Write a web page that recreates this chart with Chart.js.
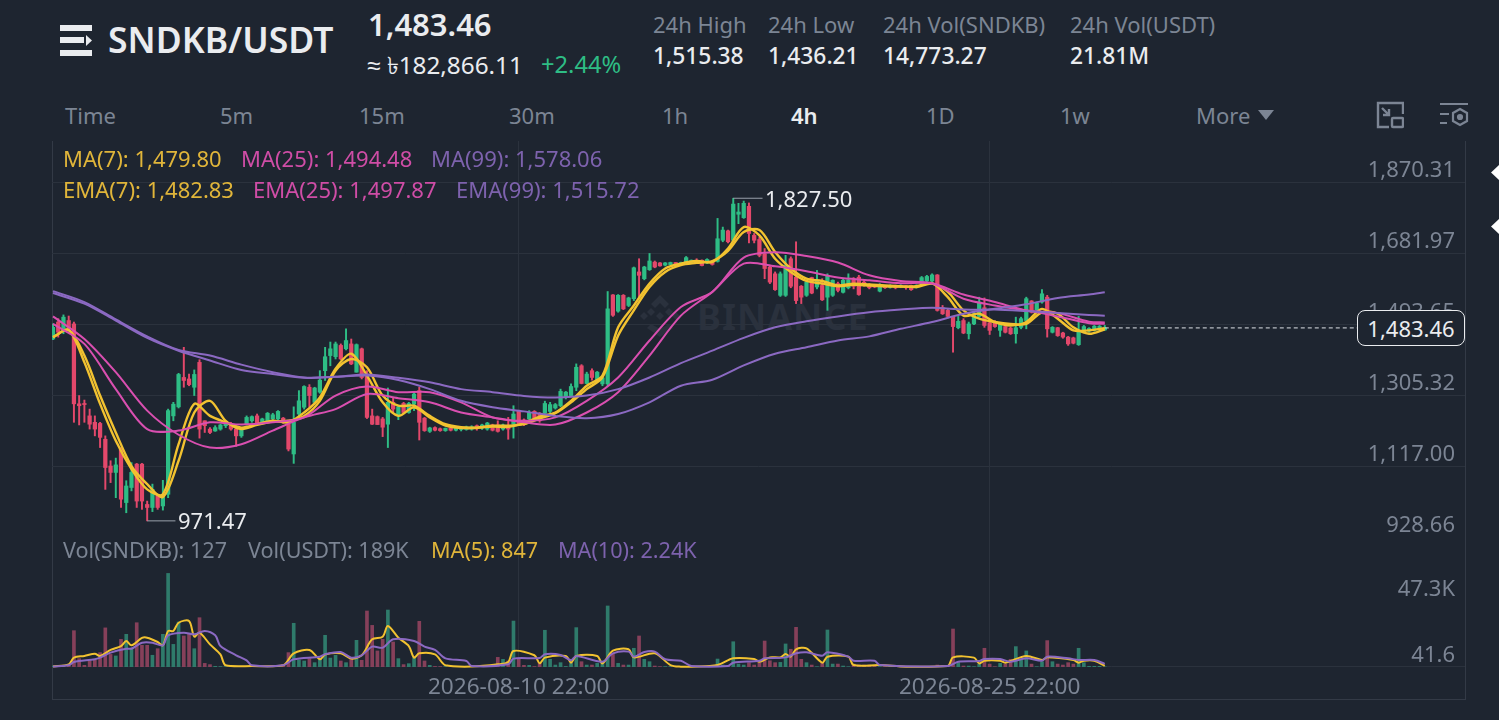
<!DOCTYPE html>
<html><head><meta charset="utf-8">
<script src="https://cdn.jsdelivr.net/npm/chart.js@4"></script>
<style>
html,body{margin:0;padding:0;width:1499px;height:720px;overflow:hidden;background:#1e2530;font-family:"Noto Sans",sans-serif;}
.t{position:absolute;white-space:nowrap;line-height:1;transform:translateY(-50%);}
.g{color:#7c8594;}
.w{color:#eaecef;}
canvas{position:absolute;display:block;}
#frame{position:absolute;left:52px;top:141px;width:1414px;height:559px;border-left:1px solid #333a46;border-right:1px solid #333a46;border-bottom:1px solid #333a46;box-sizing:border-box;}
#wm{position:absolute;left:640px;top:295px;opacity:1;}
</style></head><body>
<svg style="position:absolute;left:60px;top:25px" width="33" height="31" viewBox="0 0 33 31"><g fill="#eaecef"><rect x="0" y="0" width="32" height="6"/><rect x="0" y="12" width="24" height="6"/><rect x="0" y="25" width="32" height="6"/><path d="M26 10l6 5.500-6 5.500z"/></g></svg>
<div class="t w" style="left:108px;top:40px;font-size:35.500px;font-weight:600;">SNDKB/USDT</div>
<div class="t w" style="left:368px;top:24px;font-size:31px;font-weight:600;">1,483.46</div>
<div class="t w" style="left:367px;top:65px;font-size:24.300px;">≈ ৳182,866.11</div>
<div class="t" style="left:541px;top:65px;font-size:23.700px;color:#2ebd85;">+2.44%</div>
<div class="t g" style="left:653px;top:24px;font-size:22px;">24h High</div>
<div class="t g" style="left:768px;top:24px;font-size:22px;">24h Low</div>
<div class="t g" style="left:883px;top:24px;font-size:22px;">24h Vol(SNDKB)</div>
<div class="t g" style="left:1070px;top:24px;font-size:22px;">24h Vol(USDT)</div>
<div class="t w" style="left:653px;top:56px;font-size:22.800px;font-weight:500;">1,515.38</div>
<div class="t w" style="left:768px;top:56px;font-size:22.800px;font-weight:500;">1,436.21</div>
<div class="t w" style="left:883px;top:56px;font-size:22.800px;font-weight:500;">14,773.27</div>
<div class="t w" style="left:1070px;top:56px;font-size:22.800px;font-weight:500;">21.81M</div>
<div class="t g" style="left:65px;top:115px;font-size:22px;">Time</div>
<div class="t g" style="left:220px;top:115px;font-size:22px;">5m</div>
<div class="t g" style="left:359px;top:115px;font-size:22px;">15m</div>
<div class="t g" style="left:509px;top:115px;font-size:22px;">30m</div>
<div class="t g" style="left:662px;top:115px;font-size:22px;">1h</div>
<div class="t w" style="left:791px;top:115px;font-size:22px;font-weight:600;">4h</div>
<div class="t g" style="left:926px;top:115px;font-size:22px;">1D</div>
<div class="t g" style="left:1060px;top:115px;font-size:22px;">1w</div>
<div class="t g" style="left:1196px;top:115px;font-size:22px;">More</div>
<svg style="position:absolute;left:1258px;top:110px" width="16" height="11"><path d="M0 0h16l-8 10z" fill="#7c8594"/></svg>
<svg style="position:absolute;left:1376px;top:101px" width="28" height="28" fill="none" stroke="#7c8594" stroke-width="2.400"><path d="M14 2H2v24h11M14 2h13v11"/><rect x="16" y="17" width="11" height="9" rx="1"/><path d="M6 7l7 7M7 14h6V8"/></svg>
<svg style="position:absolute;left:1439px;top:102px" width="30" height="26" fill="none" stroke="#7c8594" stroke-width="2.200"><path d="M1 2h28M1 12h9M1 21h7"/><path d="M21 7l7 4v8l-7 4-7-4v-8z"/><circle cx="21" cy="15" r="2" fill="#7c8594"/></svg>
<div style="position:absolute;left:1491px;top:165px;width:8px;height:15px;background:#fff;clip-path:polygon(100% 0,0 50%,100% 100%);"></div>
<div style="position:absolute;left:1491px;top:219px;width:8px;height:15px;background:#fff;clip-path:polygon(100% 0,0 50%,100% 100%);"></div>
<div id="frame"></div>
<svg id="wm" width="40" height="42" viewBox="0 0 40 42"><g fill="#2a313d"><path d="M20 0l9 9-4 4-5-5-5 5-4-4zM4 17l4 4-4 4-4-4zM36 17l4 4-4 4-4-4zM20 17l4 4-4 4-4-4zM11 29l9 5 9-5 4 4-13 9-13-9z"/><path d="M11 13l4 4-4 4-4-4zM29 13l4 4-4 4-4-4z"/></g></svg>
<div class="t" style="left:697px;top:317px;font-size:36px;font-weight:700;color:#2a313d;letter-spacing:1px;">BINANCE</div>
<canvas id="price" width="1413" height="396" style="left:52px;top:141px"></canvas>
<canvas id="volume" width="1413" height="164" style="left:52px;top:536px"></canvas>
<div class="t" style="left:63px;top:158px;font-size:22px;color:#e0b53a;">MA(7): 1,479.80</div>
<div class="t" style="left:241px;top:158px;font-size:22px;color:#cf4da6;">MA(25): 1,494.48</div>
<div class="t" style="left:431px;top:158px;font-size:22px;color:#7d62ad;">MA(99): 1,578.06</div>
<div class="t" style="left:63px;top:189px;font-size:22px;color:#e0b53a;">EMA(7): 1,482.83</div>
<div class="t" style="left:253px;top:189px;font-size:22px;color:#cf4da6;">EMA(25): 1,497.87</div>
<div class="t" style="left:456px;top:189px;font-size:22px;color:#7d62ad;">EMA(99): 1,515.72</div>
<div class="t g" style="left:63px;top:550px;font-size:21.600px;">Vol(SNDKB): 127</div>
<div class="t g" style="left:248px;top:550px;font-size:21.600px;">Vol(USDT): 189K</div>
<div class="t" style="left:431px;top:550px;font-size:21.600px;color:#e0b53a;">MA(5): 847</div>
<div class="t" style="left:558px;top:550px;font-size:21.600px;color:#7d62ad;">MA(10): 2.24K</div>
<div class="t w" style="left:765px;top:198px;font-size:22px;">1,827.50</div>
<div class="t w" style="left:178px;top:520px;font-size:22px;">971.47</div>
<div class="t w" style="left:1357px;top:310px;width:108px;height:36px;box-sizing:border-box;transform:none;border:1px solid #eaecef;border-radius:8px;background:#1e2530;font-size:22px;line-height:34px;text-align:center;">1,483.46</div>
<script>
const opens=[1454,1499,1477,1503,1494,1282,1283,1250,1233,1230,
1188,1117,1100,1162,1020,1060,1122,1122,1015,1007,
1038,1011,1042,1250,1274,1352,1348,1326,1392,1237,
1215,1210,1215,1224,1228,1215,1197,1228,1237,1250,
1233,1237,1242,1242,1244,1228,1149,1255,1273,1326,
1286,1313,1370,1410,1407,1437,1428,1441,1366,1428,
1361,1250,1248,1242,1228,1286,1250,1283,1259,1281,
1317,1244,1209,1219,1216,1211,1218,1212,1214,1214,
1215,1224,1218,1215,1226,1226,1215,1224,1228,1262,
1239,1242,1262,1257,1257,1262,1271,1277,1299,1304,
1326,1383,1336,1370,1345,1335,1335,1571,1528,1570,
1543,1561,1632,1614,1638,1658,1656,1650,1651,1657,
1651,1657,1656,1663,1663,1656,1659,1660,1716,1741,
1716,1785,1776,1806,1729,1718,1680,1645,1627,1570,
1570,1667,1618,1594,1570,1617,1592,1596,1565,1570,
1601,1578,1590,1611,1618,1605,1599,1597,1581,1595,
1591,1596,1592,1595,1596,1591,1601,1608,1608,1624,
1537,1530,1512,1484,1503,1468,1494,1514,1537,1497,
1499,1477,1487,1483,1468,1485,1503,1555,1531,1552,
1565,1472,1484,1470,1459,1457,1439,1472,1475,1477,
1478,1478];
const highs=[1494,1508,1518,1515,1499,1304,1292,1268,1250,1233,
1197,1131,1138,1166,1078,1126,1124,1124,1024,1069,
1042,1079,1268,1286,1363,1432,1361,1372,1399,1237,
1219,1224,1228,1233,1233,1219,1215,1250,1250,1255,
1244,1259,1257,1264,1246,1237,1274,1317,1330,1333,
1326,1370,1432,1446,1446,1441,1481,1454,1441,1430,
1370,1268,1250,1246,1324,1299,1277,1286,1286,1313,
1326,1246,1220,1221,1218,1218,1219,1218,1221,1223,
1224,1226,1228,1233,1228,1237,1228,1246,1277,1264,
1242,1264,1264,1259,1289,1286,1283,1321,1315,1335,
1388,1386,1366,1375,1368,1352,1580,1572,1572,1572,
1565,1645,1667,1647,1681,1661,1657,1657,1658,1657,
1658,1673,1664,1667,1664,1667,1661,1774,1751,1743,
1827.5,1814,1820,1815,1734,1725,1694,1650,1632,1632,
1676,1672,1712,1596,1610,1618,1636,1614,1627,1611,
1605,1614,1627,1617,1623,1610,1601,1599,1601,1596,
1598,1597,1598,1596,1597,1598,1620,1623,1627,1625,
1543,1534,1514,1514,1508,1499,1525,1565,1563,1499,
1503,1494,1490,1485,1512,1512,1565,1556,1552,1585,
1570,1487,1485,1472,1461,1459,1514,1490,1484,1490,
1490,1490];
const lows=[1452,1459,1468,1477,1233,1226,1233,1215,1197,1166,
1055,1073,1033,1007,993,1051,1007,1002,971.47,996,
1002,1000,1033,1237,1271,1326,1330,1304,1191,1206,
1203,1209,1212,1219,1212,1169,1193,1226,1233,1224,
1228,1233,1239,1239,1230,1157,1124,1246,1268,1273,
1281,1310,1344,1383,1401,1399,1425,1386,1366,1348,
1243,1227,1227,1195,1166,1259,1240,1257,1257,1264,
1186,1209,1206,1210,1209,1209,1210,1210,1210,1212,
1212,1212,1214,1212,1210,1207,1212,1188,1191,1224,
1224,1237,1239,1233,1255,1257,1268,1274,1295,1301,
1317,1335,1335,1345,1344,1330,1330,1514,1525,1532,
1540,1556,1563,1611,1636,1643,1647,1648,1650,1650,
1650,1656,1654,1654,1648,1654,1650,1658,1712,1709,
1712,1760,1774,1709,1709,1672,1614,1601,1583,1567,
1567,1590,1548,1548,1567,1574,1587,1556,1530,1567,
1579,1576,1587,1587,1570,1594,1587,1590,1579,1588,
1589,1587,1590,1586,1583,1589,1599,1605,1605,1528,
1519,1510,1419,1481,1468,1454,1492,1512,1485,1466,
1485,1461,1470,1466,1443,1481,1481,1523,1530,1549,
1459,1470,1461,1456,1437,1441,1437,1470,1472,1475,
1477,1477];
const closes=[1485,1472,1512,1481,1282,1277,1280,1228,1215,1193,
1113,1100,1120,1029,1064,1100,1024,1024,1007,1055,
1007,1042,1264,1281,1360,1344,1333,1360,1215,1224,
1206,1219,1226,1228,1215,1197,1212,1246,1248,1228,
1242,1257,1253,1262,1233,1162,1233,1290,1328,1304,
1324,1345,1407,1428,1441,1401,1450,1388,1439,1352,
1246,1228,1227,1220,1286,1268,1274,1259,1283,1308,
1233,1211,1218,1212,1211,1217,1212,1217,1219,1221,
1221,1216,1226,1231,1212,1209,1226,1215,1255,1228,
1227,1259,1242,1237,1283,1280,1280,1315,1313,1328,
1379,1336,1361,1352,1366,1351,1534,1517,1570,1534,
1563,1643,1623,1645,1661,1645,1648,1656,1657,1651,
1657,1670,1663,1656,1649,1665,1652,1720,1743,1712,
1812,1791,1814,1734,1716,1676,1641,1605,1585,1627,
1650,1594,1556,1565,1605,1576,1610,1558,1623,1610,
1583,1610,1611,1594,1572,1596,1590,1592,1599,1590,
1596,1590,1596,1590,1585,1596,1617,1620,1624,1530,
1521,1514,1487,1501,1470,1494,1521,1552,1490,1477,
1487,1493,1472,1468,1484,1508,1561,1525,1549,1574,
1481,1485,1463,1459,1441,1443,1477,1487,1482,1488,
1488,1483.46];
const volumesK=[.7,.7,.7,1.2,26,6,1.2,4.3,4.8,10.3,
28,9,7.9,19.8,23.4,13.8,31.7,15.5,15.5,8.4,
13.1,23.4,67,16.2,32.2,22.2,23.4,13.1,35.3,2.6,
1.7,.5,.3,.2,.3,.2,.2,.3,.2,.3,
.3,.2,.4,.4,1.9,10.3,31.3,5,4.3,6,
3.1,6,22.7,6.4,8.4,4.3,3.1,6.7,19.1,4.8,
40.1,29.8,11.5,19.8,40.8,17.9,6,1.7,2.4,6.7,
32.7,4.3,1.2,.4,.3,.3,.2,.3,.2,.3,
.3,.3,.4,.4,.8,6.9,5.5,4.3,32.9,5.5,
1.2,1.2,.3,2.6,26.3,5.5,1.4,3.1,.4,2.6,
28.2,3.8,1.4,1.4,2.6,3.8,43.7,9.8,2.6,1.4,
1.4,13.4,22.2,5.5,3.8,.7,.3,.3,.3,.2,
.2,.3,.3,.3,.3,.3,.4,5.7,1.4,1,
18.1,2.1,1.4,3.1,1.4,3.1,18.6,4.5,3.1,3.3,
16.5,12.7,28.4,5.5,3.1,1.4,.2,3.1,26.5,2.1,
2.1,.7,.2,2.1,1.4,1.4,1.4,.5,.3,.3,
.3,.3,.3,.3,.3,.3,.5,.5,.5,1.4,
1,1,27.2,3.1,.7,.7,.2,2.1,13.4,2.1,
.2,2.6,2.1,5.5,14.6,5,11.5,2.1,.2,3.8,
18.9,3.8,2.1,1.4,3.1,2.1,13.4,3.1,.5,.5,
.5,.127];
const fastIdx=[0,3,6,9,12,15,18,21,24,27,30,33,36,39,42,45,48,51,54,57,60,63,66,69,72,75,78,81,84,87,90,93,96,99,102,105,108,111,114,117,120,123,126,129,132,135,138,141,144,147,150,153,156,159,162,165,168,171,174,177,180,183,186,189,192,195,198,201];
const ema7=[1459,1478,1392,1282,1184,1109,1055,1042,1175,1282,1250,1233,1219,1228,1237,1233,1259,1299,1375,1415,1357,1286,1250,
1273,1246,1224,1218,1219,1222,1221,1231,1248,1259,1290,1330,1357,1485,1543,1601,1641,1654,1661,1658,
1694,1751,1729,1667,1632,1608,1601,1594,1598,1596,1594,1593,1594,1602,1565,1516,1521,1499,1490,1499,1534,1508,1477,1477,1482.83];
const ma7=[1459,1478,1410,1304,1206,1117,1069,1035,1131,1259,1290,1237,1215,1226,1235,1237,1250,1290,1370,1401,1379,1304,1277,
1277,1250,1228,1220,1218,1224,1224,1228,1243,1257,1286,1321,1352,1463,1530,1592,1632,1650,1656,1661,
1688,1738,1743,1685,1641,1614,1608,1596,1601,1599,1596,1594,1592,1601,1579,1530,1508,1499,1494,1494,1525,1521,1485,1468,1479.8];
const slowIdx=[0,6,12,18,24,30,36,42,48,54,60,66,72,78,84,90,96,102,108,114,120,126,132,138,144,150,156,162,168,174,180,186,192,198,201];
const pinkUpper=[1494,1441,1321,1215,1211,1233,1227,1233,1246,1304,1328,1313,1313,1286,1246,1237,1246,1290,1352,1450,1539,1579,1670,1684,1674,1657,1623,1608,1602,1572,1552,1530,1523,1500,1497.87];
const pinkLower=[1514,1454,1366,1264,1200,1166,1175,1211,1246,1268,1308,1297,1286,1259,1246,1233,1227,1259,1313,1410,1516,1579,1654,1647,1634,1617,1610,1602,1601,1561,1543,1530,1514,1496,1494.48];
const ema99=[1581,1552,1506,1461,1425,1410,1386,1366,1352,1354,1360,1351,1339,1321,1313,1303,1299,1304,1321,1352,1390,1423,1457,1485,1501,1514,1525,1532,1537,1532,1532,1528,1523,1518,1515.72];
const ma99=[1576,1548,1503,1457,1423,1397,1372,1361,1351,1354,1357,1345,1321,1290,1273,1262,1250,1244,1255,1286,1330,1346,1384,1415,1432,1450,1461,1481,1499,1521,1534,1546,1563,1572,1578.06];
const volMa5Idx=[0,3,4,6,8,9,11,13,14,15,17,18,20,21,22,23,24,26,27,28,30,32,33,38,44,46,49,51,52,55,57,59,61,63,64,66,68,69,70,73,75,80,85,87,88,92,93,94,98,99,100,104,105,107,110,111,115,118,120,122,127,130,134,135,137,139,140,141,142,144,147,148,152,153,158,163,171,172,176,177,178,181,182,186,189,190,195,196,197,199,201];
const volMa5=[.3,1.9,6.7,7.900,9.5,7.9,12.2,15,18.6,15.5,20.8,21,17.9,15.5,25.8,25.8,31.7,33,21.7,24.6,16.2,9,1.2,.7,1.2,9.8,12.2,5.5,9,9.8,6,8.4,19.8,21.7,29.4,21,15,6.7,9.8,9,1.2,.3,1.9,3.6,11.5,8.4,2.6,6.7,7.9,3.1,7.9,7.9,2.6,11.7,12.7,6.9,9.8,1.4,.2,.2,1.4,6.2,5.7,3.8,6.9,6.9,9.3,7.4,12.7,13.4,3.1,7.4,7.4,1.4,1.4,.2,.7,6.9,6.7,2.6,4.5,4.5,3.1,7.9,5,6.9,5,3.1,4.5,4.5,.847];
const volMa10Idx=[0,3,4,8,9,11,14,15,17,19,21,22,25,27,29,31,32,35,37,38,44,46,51,52,55,57,59,61,63,65,69,71,73,75,79,80,87,88,93,94,97,99,100,105,107,110,111,113,115,117,120,122,129,130,135,136,140,142,144,147,148,152,153,157,158,171,173,177,178,181,183,186,189,190,194,196,199,201];
const volMa10=[.3,1.2,3.6,5.5,6.7,10.3,13.1,13.1,17.4,17.4,15.5,22.7,24.6,23.4,25.8,22.7,15,8.4,4.8,1.2,1.2,5.5,7.4,9.1,10.7,6.7,8.4,14.6,13.8,19.8,18.6,14.6,12.2,6.2,4.3,.7,1.9,6,6.4,9.1,8.6,4.8,7.9,3.8,9.8,11,7.4,10.7,11,5.5,4.5,.7,.7,3.1,4.5,6.2,6.9,9.8,10.5,8.1,10.5,7.4,4.5,4.5,1.4,.7,3.8,4.3,5.7,5.7,3.8,6.2,4.5,7.4,6.2,5,5,2.24];
const priceTicks=[928.66,1117.00,1305.32,1493.65,1681.97,1870.31];
const priceTickLabels=["928.66","1,117.00","1,305.32","1,493.65","1,681.97","1,870.31"];
const volTicksK=[0.0416,47.3];
const volTickLabels=["41.6","47.3K"];
const timeIdx=[89,179];
const timeLabels=["2026-08-10 22:00","2026-08-25 22:00"];
const lastPrice=1483.46,highPrice=1827.5,lowPrice=971.47;
const highIdx=130,lowIdx=18;

const GREEN="#2ebd85",RED="#e3486b",VGREEN="#2f7b6b",VRED="#86405a";
const YEL="#f2c230",PINK="#d94fb0",PUR="#8b69c2";
const GRID="#2b323d",TXT="#7c8594",FONT="Noto Sans";
const XMIN=-0.19,XMAX=269.84;
const idx=opens.map((_,i)=>i);
const up=idx.map(i=>closes[i]>=opens[i]);
const pts=(ix,v)=>ix.map((x,k)=>({x,y:v[k]}));
const line=(data,color,w=2)=>({type:"line",data,borderColor:color,borderWidth:w,pointRadius:0,tension:.3,order:0,clip:false});
const flat=s=>{s.paddingTop=s.paddingBottom=s.paddingLeft=s.paddingRight=0;};
const xScale=(display,h)=>({type:"linear",min:XMIN,max:XMAX,offset:false,
  afterBuildTicks(s){s.ticks=timeIdx.map(v=>({value:v}));},
  afterFit(s){flat(s);s.height=h;},
  ticks:{display,autoSkip:false,maxRotation:0,padding:7,color:TXT,font:{family:FONT,size:22.6},callback:v=>timeLabels[timeIdx.indexOf(v)]},
  grid:{color:GRID,lineWidth:1,drawTicks:false,offset:false},border:{display:false}});
const yScale=(min,max,vals,labs,off,gridColor)=>({type:"linear",position:"right",min,max,
  afterBuildTicks(s){s.ticks=vals.map(v=>({value:v}));},
  afterFit(s){flat(s);s.width=0;},
  ticks:{mirror:true,padding:-10,labelOffset:off,color:TXT,font:{family:FONT,size:22},autoSkip:false,callback:v=>labs[vals.indexOf(v)]},
  grid:{color:gridColor,lineWidth:1,drawTicks:false},border:{display:false}});
const base={responsive:false,animation:false,events:[],layout:{padding:0},plugins:{legend:{display:false},tooltip:{enabled:false}}};

new Chart(document.getElementById("price"),{data:{datasets:[
  {type:"bar",data:idx.map(i=>({x:i,y:[lows[i],highs[i]]})),backgroundColor:up.map(u=>u?GREEN:RED),barThickness:1.3,grouped:false,order:3},
  {type:"bar",data:idx.map(i=>({x:i,y:[opens[i],closes[i]]})),backgroundColor:up.map(u=>u?GREEN:RED),barThickness:3.6,grouped:false,order:2,minBarLength:1},
  line(pts(slowIdx,ema99),PUR),line(pts(slowIdx,ma99),PUR),
  line(pts(slowIdx,pinkLower),PINK),line(pts(slowIdx,pinkUpper),PINK),
  line(pts(fastIdx,ma7),YEL,2.4),line(pts(fastIdx,ema7),YEL,2.4),
  {type:"line",data:[{x:201,y:lastPrice},{x:XMAX,y:lastPrice}],borderColor:"#dfe3e8",borderWidth:1,borderDash:[4,3],pointRadius:0,order:1},
  {type:"line",data:[{x:highIdx,y:highPrice},{x:highIdx+5.6,y:highPrice}],borderColor:"#9aa1ab",borderWidth:1,pointRadius:0,order:1},
  {type:"line",data:[{x:lowIdx,y:lowPrice},{x:lowIdx+5.4,y:lowPrice}],borderColor:"#9aa1ab",borderWidth:1,pointRadius:0,order:1}
]},options:{...base,scales:{x:xScale(false,0),y:yScale(928.66,1979.4,priceTicks,priceTickLabels,-11,GRID)}}});

new Chart(document.getElementById("volume"),{data:{datasets:[
  {type:"bar",data:idx.map(i=>({x:i,y:volumesK[i]})),backgroundColor:up.map(u=>u?VGREEN:VRED),barThickness:3,grouped:false,order:2},
  line(pts(volMa10Idx,volMa10),PUR),line(pts(volMa5Idx,volMa5),YEL)
]},options:{...base,scales:{x:xScale(true,33),y:yScale(0,93.8,volTicksK,volTickLabels,-11,c=>c.tick&&c.tick.value<1?GRID:"rgba(0,0,0,0)")}}});
</script>
</body></html>
